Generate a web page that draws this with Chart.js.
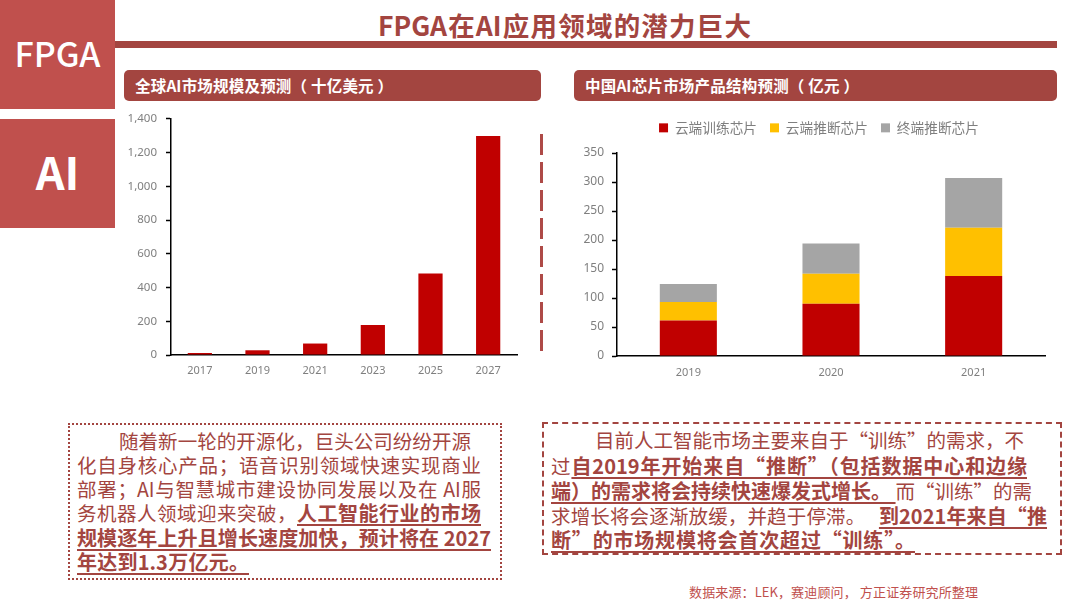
<!DOCTYPE html>
<html>
<head>
<meta charset="utf-8">
<script src="https://cdn.jsdelivr.net/npm/chart.js@4"></script>
<style>
    html, body { margin: 0; padding: 0; background: #fff; overflow: hidden; }
    body { width: 1080px; height: 608px; position: relative; font-family: "Noto Sans CJK SC", sans-serif; }
    .side { position: absolute; left: 0; width: 115px; background: #C0504D; color: #fff; text-align: center; }
    .rule { position: absolute; left: 115px; top: 41px; width: 942px; height: 7px; background: #A34540; }
    .title { position: absolute; left: 378px; top: 6px; width: 373px; height: 38px; line-height: 38px; font-size: 26.5px; font-weight: 700; color: #A34540; text-align: justify; text-align-last: justify; white-space: nowrap; }
    .head { position: absolute; top: 70px; height: 31px; line-height: 31px; background: #A34540; border-radius: 5px; color: #fff; font-size: 15.5px; font-weight: 700; }
    .head span { position: absolute; top: 0; text-align-last: justify; white-space: nowrap; }
    .divider { position: absolute; left: 540px; top: 134px; width: 3px; height: 217px; background: repeating-linear-gradient(to bottom, #AE4A47 0, #AE4A47 21px, transparent 21px, transparent 28px); }
    .box { position: absolute; box-sizing: border-box; border: 2px dashed #A34540; }
    .line { position: absolute; height: 26px; line-height: 26px; font-size: 19.5px; color: #A34540; white-space: nowrap; text-align: justify; text-align-last: justify; }
    .line b { font-size: 20px; font-weight: 700; text-decoration: underline; text-decoration-thickness: 2px; text-underline-offset: 3px; }
    .source { position: absolute; left: 689px; top: 582px; width: 289px; height: 20px; line-height: 20px; font-size: 13px; color: #C0504D; white-space: nowrap; text-align-last: justify; }
    canvas { position: absolute; }
</style>
</head>
<body>

<div class="side" style="top:0;height:109px;line-height:105px;font-size:34px;font-weight:500;">FPGA</div>
<div class="side" style="top:119px;height:109px;line-height:104px;font-size:45px;font-weight:700;">AI</div>
<div class="rule"></div>
<div class="title">FPGA在AI应用领域的潜力巨大</div>

<div class="head" style="left:124px;width:417px;"><span style="left:11px;width:258px;">全球AI市场规模及预测（ 十亿美元 ）</span></div>
<div class="head" style="left:574px;width:483px;"><span style="left:11px;width:274px;">中国AI芯片市场产品结构预测（ 亿元 ）</span></div>

<canvas id="market-chart" width="410" height="287" style="left:120px;top:103px;"></canvas>
<canvas id="structure-chart" width="490" height="290" style="left:573px;top:100px;"></canvas>

<div class="divider"></div>

<!-- Left text box -->
<div class="box" style="left:68px;top:423px;width:434px;height:157px;border-style:dotted;"></div>
<div class="line" style="left:119px;top:428px;width:352px;">随着新一轮的开源化，巨头公司纷纷开源</div>
<div class="line" style="left:77px;top:452px;width:404px;">化自身核心产品；语音识别领域快速实现商业</div>
<div class="line" style="left:77px;top:476px;width:404px;">部署；AI与智慧城市建设协同发展以及在 AI服</div>
<div class="line" style="left:77px;top:500px;width:404px;">务机器人领域迎来突破，<b>人工智能行业的市场</b></div>
<div class="line" style="left:77px;top:525px;width:414px;"><b>规模逐年上升且增长速度加快，预计将在 2027</b></div>
<div class="line" style="left:77px;top:549px;width:172px;"><b>年达到1.3万亿元。</b></div>

<!-- Right text box -->
<div class="box" style="left:542px;top:422px;width:520px;height:133px;"></div>
<div class="line" style="left:595px;top:427px;width:426px;">目前人工智能市场主要来自于“训练”的需求，不</div>
<div class="line" style="left:551px;top:453px;width:476px;">过<b>自2019年开始来自“推断”（包括数据中心和边缘</b></div>
<div class="line" style="left:551px;top:478px;width:480px;"><b>端）的需求将会持续快速爆发式增长。 </b>而“训练”的需</div>
<div class="line" style="left:551px;top:503px;width:496px;">求增长将会逐渐放缓，并趋于停滞。 &nbsp; <b>到2021年来自“推</b></div>
<div class="line" style="left:551px;top:527px;width:364px;"><b>断”的市场规模将会首次超过“训练”。</b></div>

<div class="source">数据来源：LEK，赛迪顾问， 方正证券研究所整理</div>

<script>
    // Global AI market (left chart)
    const marketYears = ["2017", "2019", "2021", "2023", "2025", "2027"];
    const marketValues = [12, 28, 68, 178, 483, 1298];

    // China AI chip structure (right chart)
    const structureYears = ["2019", "2020", "2021"];
    const cloudTraining = [61, 90, 138];
    const cloudInference = [32, 52, 83];
    const edgeInference = [31, 52, 86];

    const tickColor = "#7f7f7f";

    function tickFont(size) {
        return { family: "'Noto Sans', sans-serif", size: size };
    }

    function xAxis(height, padding) {
        return {
            stacked: true,
            afterFit: function (scale) { scale.height = height; },
            border: { color: "#000", width: 1.5 },
            grid: { display: false },
            ticks: { color: tickColor, font: tickFont(11), padding: padding, maxRotation: 0 }
        };
    }

    function yAxis(width, max, step, fontSize, padding) {
        return {
            stacked: true,
            min: 0,
            max: max,
            afterFit: function (scale) { scale.width = width; },
            border: { color: "#000", width: 1.5 },
            grid: { drawOnChartArea: false, color: "#000", tickLength: 5, tickWidth: 1.5 },
            ticks: { stepSize: step, color: tickColor, font: tickFont(fontSize), padding: padding }
        };
    }

    // Global AI market chart
    new Chart(document.getElementById("market-chart").getContext("2d"), {
        type: "bar",
        data: {
            labels: marketYears,
            datasets: [{
                label: "全球AI市场规模",
                data: marketValues,
                backgroundColor: "#C00000",
                categoryPercentage: 1,
                barPercentage: 0.42
            }]
        },
        options: {
            responsive: false,
            animation: false,
            layout: { padding: { top: 12, right: 13 } },
            plugins: { legend: { display: false }, tooltip: { enabled: false } },
            scales: { x: xAxis(35, 1), y: yAxis(51, 1400, 200, 11.5, 9) }
        }
    });

    // China AI chip structure chart
    function barSet(label, values, color) {
        return {
            label: label,
            data: values,
            backgroundColor: color,
            categoryPercentage: 1,
            barPercentage: 0.4
        };
    }

    // Fixed legend height so the plot starts where it should, legend nudged right
    const legendPlacement = {
        id: "legendPlacement",
        beforeInit: function (chart) {
            const fit = chart.legend.fit;
            chart.legend.fit = function () {
                fit.call(chart.legend);
                this.height = 45;
            };
        },
        afterLayout: function (chart) {
            chart.legend.left += 20;
        }
    };

    new Chart(document.getElementById("structure-chart").getContext("2d"), {
        type: "bar",
        data: {
            labels: structureYears,
            datasets: [
                barSet("云端训练芯片", cloudTraining, "#C00000"),
                barSet("云端推断芯片", cloudInference, "#FFC000"),
                barSet("终端推断芯片", edgeInference, "#A5A5A5")
            ]
        },
        plugins: [legendPlacement],
        options: {
            responsive: false,
            animation: false,
            layout: { padding: { top: 8, right: 18 } },
            plugins: {
                tooltip: { enabled: false },
                legend: {
                    position: "top",
                    labels: {
                        boxWidth: 9,
                        boxHeight: 9,
                        padding: 13,
                        color: tickColor,
                        font: { family: "'Noto Sans CJK SC', sans-serif", size: 13.7 }
                    }
                }
            },
            scales: { x: xAxis(34, 2), y: yAxis(44, 350, 50, 12, 8) }
        }
    });
</script>
</body>
</html>
